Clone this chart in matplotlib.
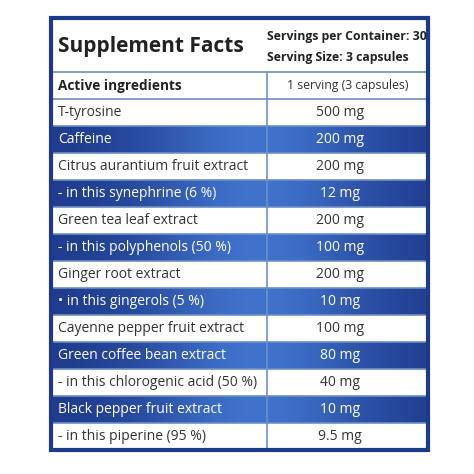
import matplotlib.pyplot as plt
import numpy as np

ingredients = ["T-tyrosine", "Caffeine", "Citrus aurantium fruit extract",
               "- in this synephrine (6 %)", "Green tea leaf extract",
               "- in this polyphenols (50 %)", "Ginger root extract",
               "\u2022 in this gingerols (5 %)", "Cayenne pepper fruit extract",
               "Green coffee bean extract", "- in this chlorogenic acid (50 %)",
               "Black pepper fruit extract", "- in this piperine (95 %)"]
amounts = ["500 mg", "200 mg", "200 mg", "12 mg", "200 mg", "100 mg", "200 mg",
           "10 mg", "100 mg", "80 mg", "40 mg", "10 mg", "9.5 mg"]
highlighted = [False, True, False, True, False, True, False, True, False,
               True, False, True, False]

fig = plt.figure(figsize=(4.74, 4.74), dpi=100)
ax = fig.add_axes([0, 0, 1, 1])
ax.set_xlim(0, 474)
ax.set_ylim(474, 0)
ax.axis("off")

left, right, mid = 51, 428, 267
top, head_bot = 18, 72
row_h = 27.0
dark = "#1d3a8a"
line = "#6f8fc4"

# blue gradient for highlighted rows: dark at the edges, lighter in the middle
t = np.linspace(0, 1, 256)
w = np.exp(-((t - 0.55) / 0.3) ** 2)[:, None]
c0 = np.array([0.12, 0.23, 0.55])
c1 = np.array([0.25, 0.45, 0.80])
grad = (c0 * (1 - w) + c1 * w)[None, :, :]

ax.text(58, 46, "Supplement Facts", fontsize=15, fontweight="bold",
        family="Open Sans", va="center", color="#222222")
ax.text(267, 36, "Servings per Container: 30", fontsize=8.8, fontweight="bold",
        family="Open Sans", va="center", color="#222222")
ax.text(267, 57, "Serving Size: 3 capsules", fontsize=8.8, fontweight="bold",
        family="Open Sans", va="center", color="#222222")

y = head_bot
ax.text(58, y + row_h / 2, "Active ingredients", fontsize=9.8, fontweight="bold",
        family="Open Sans", va="center", color="#222222")
ax.text(348, y + row_h / 2, "1 serving (3 capsules)", fontsize=8.8,
        family="Open Sans", va="center", ha="center", color="#333333")
ax.plot([left, right], [y, y], color=line, lw=1.2)
for i, (name, amt, hl) in enumerate(zip(ingredients, amounts, highlighted)):
    y = head_bot + row_h * (i + 1)
    col = "#333333"
    if hl:
        ax.imshow(grad, extent=[left, right, y + row_h, y], aspect="auto", zorder=1)
        col = "white"
    ax.plot([left, right], [y, y], color=line, lw=1.2, zorder=2)
    ax.text(58, y + row_h / 2, name, fontsize=10, family="Open Sans",
            va="center", color=col, zorder=3)
    ax.text(340, y + row_h / 2, amt, fontsize=10, family="Open Sans",
            va="center", ha="center", color=col, zorder=3)

bottom = head_bot + row_h * (len(ingredients) + 1)
ax.plot([mid, mid], [head_bot, bottom], color=line, lw=1.2, zorder=2)
ax.add_patch(plt.Rectangle((left, top), right - left, bottom - top, fill=False,
                           ec=dark, lw=3, zorder=4))
ax.set_xlim(0, 474)
ax.set_ylim(474, 0)
fig.savefig("out.png", dpi=100)
